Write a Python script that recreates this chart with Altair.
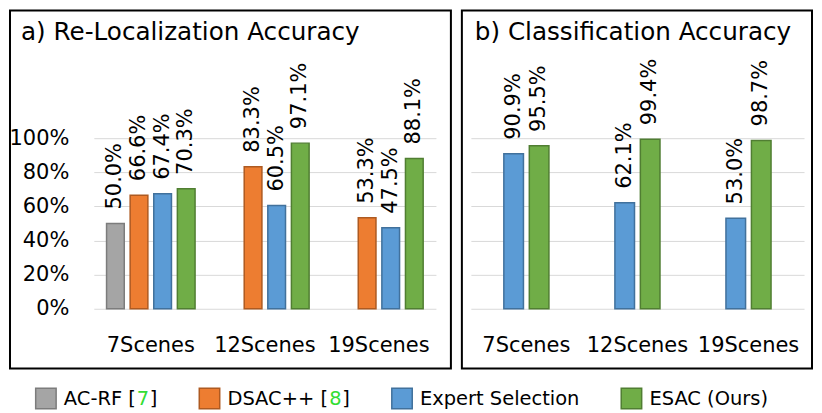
import altair as alt
import pandas as pd

# ---------------- data ----------------
scenes = ["7Scenes", "12Scenes", "19Scenes"]
series = ["AC-RF", "DSAC++", "Expert Selection", "ESAC (Ours)"]
series_refs = ["7", "8", "", ""]

reloc_acrf = [50.0, None, None]
reloc_dsac = [66.6, 83.3, 53.3]
reloc_expert = [67.4, 60.5, 47.5]
reloc_esac = [70.3, 97.1, 88.1]

cls_series = ["Expert Selection", "ESAC (Ours)"]
cls_expert = [90.9, 62.1, 53.0]
cls_esac = [95.5, 99.4, 98.7]

y_ticks = [0, 20, 40, 60, 80, 100]
titles = ["a) Re-Localization Accuracy", "b) Classification Accuracy"]

# ---------------- style ----------------
fill_colors = ["#A5A5A5", "#ED7D31", "#5B9BD5", "#70AD47"]
stroke_colors = ["#7C7C7C", "#AE5A21", "#41719C", "#507E32"]
ref_color = "#33DD33"
grid_color = "#D9D9D9"
FONT = "DejaVu Sans"


def rows(names, arrays):
    out = []
    for name, arr in zip(names, arrays):
        for scene, v in zip(scenes, arr):
            if v is not None:
                out.append({"scene": scene, "series": name, "value": v})
    return pd.DataFrame(out)


df_a = rows(series, [reloc_acrf, reloc_dsac, reloc_expert, reloc_esac])
df_b = rows(cls_series, [cls_expert, cls_esac])

fill_scale = alt.Scale(domain=series, range=fill_colors)
stroke_scale = alt.Scale(domain=series, range=stroke_colors)


def panel(df, offset_domain, pad_inner, pad_outer, off_pad, width, show_labels, box, title_x, title):
    x = alt.X(
        "scene:N", sort=scenes,
        scale=alt.Scale(domain=scenes, paddingInner=pad_inner, paddingOuter=pad_outer),
        axis=alt.Axis(title=None, labelAngle=0, ticks=False, tickSize=0, domain=False,
                      labelPadding=26, labelFontSize=21, labelFont=FONT, labelColor="black"),
    )
    y = alt.Y(
        "value:Q", scale=alt.Scale(domain=[0, 100]),
        axis=alt.Axis(values=y_ticks, title=None, labelExpr="datum.value + '%'", ticks=False, tickSize=0,
                      domain=False, grid=True, gridColor=grid_color, gridWidth=1, labels=show_labels,
                      labelPadding=25, labelFontSize=21, labelFont=FONT, labelColor="black"),
    )
    xo = alt.XOffset("series:N", scale=alt.Scale(domain=offset_domain, paddingInner=off_pad, paddingOuter=0))
    base = alt.Chart(df).encode(x=x, xOffset=xo, y=y)
    bars = base.mark_bar(strokeWidth=1.5).encode(
        fill=alt.Fill("series:N", scale=fill_scale, legend=None),
        stroke=alt.Stroke("series:N", scale=stroke_scale, legend=None),
    )
    labels = base.transform_calculate(
        label="format(datum.value, '.1f') + '%'"
    ).mark_text(angle=270, align="left", baseline="middle", dx=14, fontSize=21, font=FONT,
                color="black").encode(text="label:N")
    meta = alt.Data(values=[{"title": title}])
    border = alt.Chart(meta).mark_rect(fillOpacity=0, stroke="black", strokeWidth=2).encode(
        x=alt.value(box[0]), x2=alt.value(box[1]), y=alt.value(box[2]), y2=alt.value(box[3])
    )
    head = alt.Chart(meta).mark_text(align="left", baseline="alphabetic", fontSize=24.7, font=FONT,
                                     color="black").encode(
        x=alt.value(title_x), y=alt.value(-98), text="title:N"
    )
    return alt.layer(bars, labels, border, head).properties(width=width, height=171)


panel_a = panel(df_a, series, 0.224, 0.112, 0.25, 343, True, (-84, 358, -128, 231), -73, titles[0])
panel_b = panel(df_b, cls_series, 0.594, 0.297, 0.23, 334, False, (-9, 342, -128, 231), 4, titles[1])

# ---------------- legend ----------------
SHIFT = -58
txt_kw = dict(align="left", baseline="middle", fontSize=19.5, font=FONT)


def text_layer(d, field, color, x=0):
    return alt.Chart(d).mark_text(color=color, **txt_kw).encode(
        x=alt.value(x), y=alt.value(10), text=f"{field}:N")


legend_items = []
for i, (name, ref) in enumerate(zip(series, series_refs)):
    shift = SHIFT if i == 0 else 0
    rec = {"series": name, "main": name + (" [" if ref else ""), "ref": ref, "close": "]"}
    d = alt.Data(values=[rec])
    sq = alt.Chart(d).mark_square(size=420, opacity=1, strokeWidth=1.5).encode(
        x=alt.value(10 + shift), y=alt.value(10),
        fill=alt.Fill("series:N", scale=fill_scale, legend=None),
        stroke=alt.Stroke("series:N", scale=stroke_scale, legend=None),
    )
    head_cell = alt.layer(sq, text_layer(d, "main", "black", 28 + shift)).properties(width=1, height=20)
    if ref:
        ref_cell = text_layer(d, "ref", ref_color).properties(width=1, height=20)
        close_cell = text_layer(d, "close", "black").properties(width=1, height=20)
        legend_items.append(alt.hconcat(head_cell, ref_cell, close_cell, spacing=-3))
    else:
        legend_items.append(head_cell)

legend_row = alt.hconcat(*legend_items, spacing=37)
top_row = alt.hconcat(panel_a, panel_b, spacing=7).resolve_scale(xOffset="independent")

chart = alt.vconcat(top_row, legend_row, spacing=14, padding=0).configure(
    font=FONT
).configure_view(stroke="transparent")

chart.save("out.html", embed_options={"renderer": "svg", "actions": False})
